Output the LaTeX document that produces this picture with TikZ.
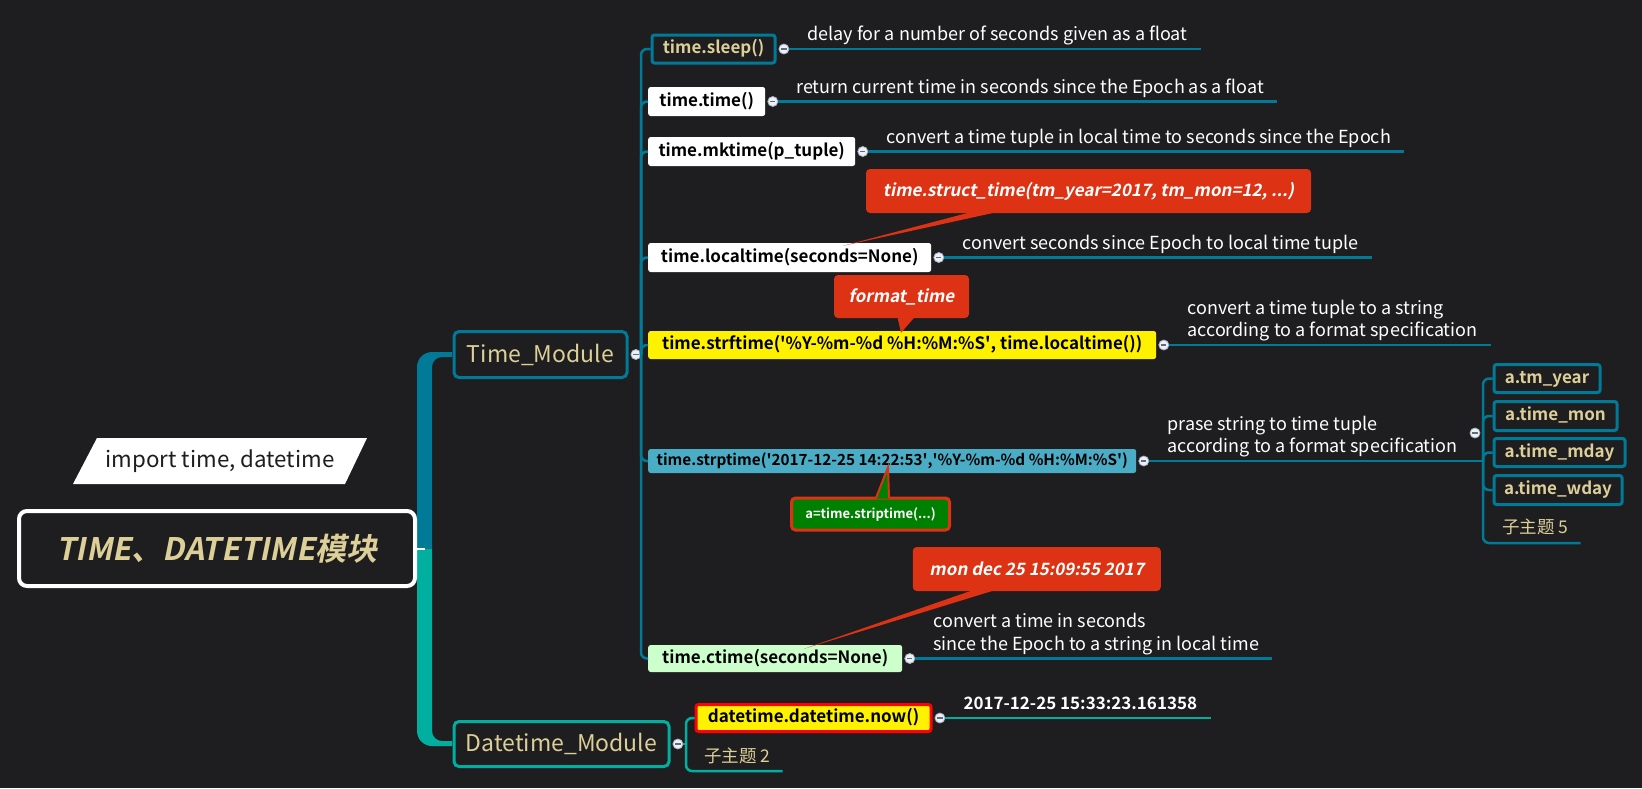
\documentclass[tikz,border=0pt]{standalone}
\usepackage{fontspec}
\setmainfont{Noto Sans CJK SC}[BoldFont={Noto Sans CJK SC Bold}]
\newfontfamily\slbold{Noto Sans CJK SC Bold}[FakeSlant=0.2]
\usetikzlibrary{positioning}

\definecolor{bgc}{RGB}{30,30,32}
\definecolor{tblue}{RGB}{0,122,150}
\definecolor{dgreen}{RGB}{0,175,160}
\definecolor{tantext}{RGB}{221,207,152}
\definecolor{callred}{RGB}{221,51,20}
\definecolor{strpblue}{RGB}{75,172,198}
\definecolor{ctgreen}{RGB}{204,255,204}
\definecolor{cgreen}{RGB}{0,128,0}
\definecolor{knobfill}{RGB}{236,240,248}
\definecolor{knobedge}{RGB}{170,176,192}
\newcommand{\sq}{\textquotesingle}

\begin{document}
\begin{tikzpicture}[x=1pt, y=-1pt,
	tline/.style={tblue, line width=2.5pt},
	dline/.style={dgreen, line width=2.5pt},
	knob/.style={circle, draw=knobedge, fill=knobfill, line width=0.8pt, minimum size=10pt, inner sep=0pt,
		path picture={\draw[knobedge!60!black, line width=1.2pt] ([xshift=-2.6pt]path picture bounding box.center) -- ([xshift=2.6pt]path picture bounding box.center);}},
	desc/.style={anchor=south west, inner sep=0pt, text=white, align=left, text depth=5pt, font=\fontsize{18}{22.6}\selectfont},
	fn/.style={anchor=west, rounded corners=2.5pt, inner sep=0pt, text height=12pt, text depth=3pt, font=\bfseries\fontsize{17}{20}\selectfont},
	fnwhite/.style={fn, fill=white, text=black},
	fndark/.style={fn, draw=tblue, line width=3pt, fill=bgc, text=tantext},
	modbox/.style={anchor=west, rounded corners=5pt, line width=3pt, fill=bgc, text=tantext, font=\fontsize{23}{27}\selectfont},
	callout/.style={rounded corners=4pt, fill=callred, text=white, inner sep=0pt, font=\slbold\fontsize{17}{21}\selectfont},
	subt/.style={anchor=base west, inner sep=0pt, text=tantext, font=\fontsize{17.5}{20}\selectfont}]
	% page
	\fill[bgc] (0,0) rectangle (1642,788);
	\useasboundingbox (0,0) rectangle (1642,788);
	% trunk
	\fill[tblue] (417,548.5) -- (417,367) .. controls (417,358.7) and (423.7,352) .. (432,352) -- (452,352) -- (452,357) -- (442,357) .. controls (436.5,357) and (432,361.5) .. (432,367) -- (432,548.5) -- cycle;
	\fill[dgreen] (417,548.5) -- (417,731) .. controls (417,739.3) and (423.7,746) .. (432,746) -- (452,746) -- (452,741) -- (442,741) .. controls (436.5,741) and (432,736.5) .. (432,731) -- (432,548.5) -- cycle;
	% root
	\fill[white] (97,438) -- (367,438) -- (345,484) -- (73,484) -- cycle;
	\node[text=bgc, font=\fontsize{22.3}{26}\selectfont] (imp) at (220,461) {import time, datetime};
	\node[draw=white, line width=4pt, rounded corners=8pt, fill=bgc, minimum width=396pt, minimum height=75pt, text=tantext, font=\slbold\fontsize{31}{36}\selectfont] (title) at (217,548.5) {TIME、DATETIME模块};
	\draw[white, line width=2pt] (title.east) -- ++(8,0);
	% Time_Module
	\node[modbox, draw=tblue, minimum width=173pt, minimum height=46pt] (tm) at (452.5,354.5) {Time\_Module};
	\node[knob, right=2pt of tm] (ktm) {};
	\coordinate (tbus) at (641,354.5);
	\node[fndark, minimum width=123pt, minimum height=28pt] (sleep) at (650.5,49) {time.sleep()};
	\node[fnwhite, minimum width=117pt, minimum height=29pt] (ttime) at (648,101.5) {time.time()};
	\node[fnwhite, minimum width=207pt, minimum height=29pt] (mktime) at (648,151.5) {time.mktime(p\_tuple)};
	\node[fnwhite, minimum width=283pt, minimum height=29pt] (loct) at (648,257.5) {time.localtime(seconds=None)};
	\node[fn, fill=yellow, text=black, minimum width=508pt, minimum height=28pt] (strf) at (648,345) {time.strftime(\sq\%Y-\%m-\%d \%H:\%M:\%S\sq, time.localtime())};
	\node[fn, fill=strpblue, text=black, minimum width=488pt, minimum height=24pt, font=\bfseries\fontsize{15.3}{18}\selectfont] (strp) at (648,461) {time.strptime(\sq 2017-12-25 14:22:53\sq,\sq\%Y-\%m-\%d \%H:\%M:\%S\sq)};
	\node[fn, fill=ctgreen, text=black, minimum width=254pt, minimum height=27pt] (ctime) at (648,658.5) {time.ctime(seconds=None)};
	\draw[tline] (ktm) -- (tbus);
	\foreach \c in {sleep,ttime,mktime,loct,strf,strp,ctime}
		\draw[tline, rounded corners=6pt] (tbus) |- (\c.west);
	% descriptions
	\foreach \c/\t in {sleep/delay for a number of seconds given as a float,
		ttime/return current time in seconds since the Epoch as a float,
		mktime/convert a time tuple in local time to seconds since the Epoch,
		loct/convert seconds since Epoch to local time tuple,
		strf/{convert a time tuple to a string\\according to a format specification},
		ctime/{convert a time in seconds\\since the Epoch to a string in local time}} {
		\node[knob, right=2pt of \c] (k\c) {};
		\node[desc] (d\c) at ([xshift=18pt,yshift=3pt]k\c.east) {\t};
		\draw[tline] (k\c.east) -- (k\c.east -| d\c.east) -- ++(13,0);
	}
	% strptime and its members
	\node[knob, right=2pt of strp] (kstrp) {};
	\node[desc] (dstrp) at ([xshift=18pt,yshift=3pt]kstrp.east) {prase string to time tuple\\according to a format specification};
	\node[knob] (kprase) at (1475,433) {};
	\coordinate (sbus) at (1483,461);
	\draw[tline] (kstrp.east) -- (sbus);
	\node[fndark, minimum width=106pt, minimum height=28pt] (ayear) at (1492.5,378.5) {a.tm\_year};
	\node[fndark, minimum width=123pt, minimum height=29pt] (amon) at (1492.5,416) {a.time\_mon};
	\node[fndark, minimum width=131pt, minimum height=28pt] (amday) at (1492.5,452.5) {a.time\_mday};
	\node[fndark, minimum width=128pt, minimum height=29pt] (awday) at (1492.5,490) {a.time\_wday};
	\node[subt] (sub5) at (1502,533) {子主题 5};
	\foreach \c in {ayear,amon,amday,awday}
		\draw[tline, rounded corners=6pt] (sbus) |- (\c.west);
	\draw[tline, rounded corners=6pt] (sbus) |- ([xshift=12pt,yshift=-10pt]sub5.base east);
	% Datetime_Module
	\node[modbox, draw=dgreen, minimum width=215pt, minimum height=45pt] (dm) at (452.5,744) {Datetime\_Module};
	\node[knob, right=2pt of dm] (kdm) {};
	\coordinate (dbus) at (686,744);
	\node[fn, fill=yellow, draw=red, line width=3pt, text=black, minimum width=235pt, minimum height=27pt] (dtnow) at (694.5,718) {datetime.datetime.now()};
	\node[knob, right=2pt of dtnow] (kdtnow) {};
	\node[desc, font=\bfseries\fontsize{17}{21}\selectfont] (ddtnow) at ([xshift=18pt,yshift=3pt]kdtnow.east) {2017-12-25 15:33:23.161358};
	\node[subt] (sub2) at (704,762) {子主题 2};
	\draw[dline] (kdm) -- (dbus);
	\draw[dline, rounded corners=6pt] (dbus) |- (dtnow.west);
	\draw[dline, rounded corners=6pt] (dbus) |- ([xshift=12pt,yshift=-9pt]sub2.base east);
	\draw[dline] (kdtnow.east) -- (kdtnow.east -| ddtnow.east) -- ++(14,0);
	% callouts
	\node[callout, minimum width=445pt, minimum height=44pt] (cstruct) at (1088.5,191) {time.struct\_time(tm\_year=2017, tm\_mon=12, ...)};
	\fill[callred] ([xshift=-118pt,yshift=1pt]cstruct.south) -- ([xshift=-92pt,yshift=1pt]cstruct.south) -- ([xshift=2pt,yshift=-3pt]loct.north west -| 841,0) -- cycle;
	\node[callout, minimum width=135pt, minimum height=43pt] (cfmt) at (901.5,296.5) {format\_time};
	\fill[callred] ([xshift=-4pt,yshift=1pt]cfmt.south) -- ([xshift=13pt,yshift=1pt]cfmt.south) -- ([yshift=-2pt]strf.north -| 901,0) -- cycle;
	\node[callout, minimum width=248pt, minimum height=44pt] (cmon) at (1036.75,569) {mon dec 25 15:09:55 2017};
	\fill[callred] ([xshift=-64pt,yshift=1pt]cmon.south) -- ([xshift=-42pt,yshift=1pt]cmon.south) -- ([yshift=-4pt]ctime.north -| 804,0) -- cycle;
	\node[fill=cgreen, draw=callred, line width=3pt, rounded corners=4pt, minimum width=158pt, minimum height=32pt, inner sep=0pt, text=white, font=\bfseries\fontsize{13}{15}\selectfont] (cstrip) at (870.5,514) {a=time.striptime(...)};
	\fill[cgreen] ([xshift=5pt,yshift=-2pt]cstrip.north) -- ([xshift=19pt,yshift=-2pt]cstrip.north) -- ([yshift=6pt]strp.south -| 888,0) -- cycle;
	\draw[callred, line width=2pt] ([xshift=5.5pt,yshift=-1.5pt]cstrip.north) -- ([yshift=6pt]strp.south -| 888,0) -- ([xshift=18.5pt,yshift=-1.5pt]cstrip.north);
\end{tikzpicture}
\end{document}
